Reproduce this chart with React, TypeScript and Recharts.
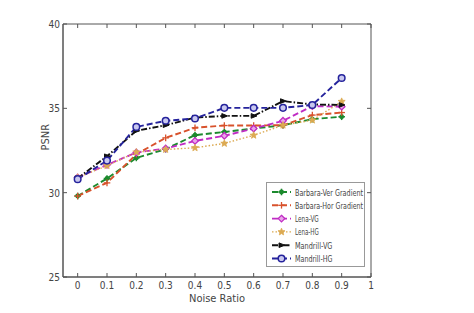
import React from "react";
import {
  LineChart,
  Line,
  XAxis,
  YAxis,
  ReferenceArea,
} from "recharts";

const noiseRatio = [0, 0.1, 0.2, 0.3, 0.4, 0.5, 0.6, 0.7, 0.8, 0.9];
const barbaraVer = [29.8, 30.84, 32.06, 32.58, 33.41, 33.6, 33.8, 34.0, 34.36, 34.5];
const barbaraHor = [29.8, 30.58, 32.28, 33.25, 33.85, 33.98, 33.98, 34.0, 34.6, 34.75];
const lenaVG = [30.9, 31.65, 32.38, 32.62, 33.07, 33.37, 33.8, 34.26, 35.13, 35.1];
const lenaHG = [30.9, 31.6, 32.4, 32.56, 32.66, 32.92, 33.4, 34.0, 34.3, 35.4];
const mandrillVG = [30.85, 32.16, 33.67, 34.0, 34.45, 34.55, 34.55, 35.43, 35.23, 35.2];
const mandrillHG = [30.8, 31.9, 33.9, 34.26, 34.4, 35.03, 35.03, 35.03, 35.2, 36.8];

const xTicks = [0, 0.1, 0.2, 0.3, 0.4, 0.5, 0.6, 0.7, 0.8, 0.9, 1];
const yTicks = [25, 30, 35, 40];

const data = noiseRatio.map((x, i) => ({
  x,
  bv: barbaraVer[i],
  bh: barbaraHor[i],
  lv: lenaVG[i],
  lh: lenaHG[i],
  mv: mandrillVG[i],
  mh: mandrillHG[i],
}));

// plot box in page pixels (matlab style frame)
const PLOT_LEFT = 63;
const PLOT_RIGHT = 371;
const PLOT_TOP = 24;
const PLOT_BOTTOM = 277;

const FONT = "'DejaVu Sans Condensed', 'Liberation Sans', Arial, sans-serif";
const TEXT = "#444";
const FRAME = "#555";

type Shape = "asterisk" | "plus" | "diamond" | "star" | "triangle" | "circle";

const series: Array<{
  key: string;
  name: string;
  color: string;
  dash: string;
  width: number;
  shape: Shape;
}> = [
  { key: "bv", name: "Barbara-Ver Gradient", color: "#1c8a2e", dash: "6 3", width: 1.9, shape: "asterisk" },
  { key: "bh", name: "Barbara-Hor Gradient", color: "#d8522c", dash: "6 3", width: 1.9, shape: "plus" },
  { key: "lv", name: "Lena-VG", color: "#c02cc4", dash: "6 3", width: 1.9, shape: "diamond" },
  { key: "lh", name: "Lena-HG", color: "#dcaa52", dash: "1.5 2", width: 1.4, shape: "star" },
  { key: "mv", name: "Mandrill-VG", color: "#111111", dash: "6 2 1.5 2", width: 1.9, shape: "triangle" },
  { key: "mh", name: "Mandrill-HG", color: "#25239c", dash: "6 3", width: 1.9, shape: "circle" },
];

function Marker({ shape, cx, cy, color }: { shape: Shape; cx: number; cy: number; color: string }) {
  const r = 3.3;
  switch (shape) {
    case "asterisk":
      return (
        <g stroke={color} strokeWidth={1.5}>
          <line x1={cx - r} x2={cx + r} y1={cy} y2={cy} />
          <line x1={cx} x2={cx} y1={cy - r} y2={cy + r} />
          <circle cx={cx} cy={cy} r={1.7} fill={color} />
        </g>
      );
    case "plus":
      return (
        <g stroke={color} strokeWidth={1.3}>
          <line x1={cx - r} x2={cx + r} y1={cy} y2={cy} />
          <line x1={cx} x2={cx} y1={cy - r} y2={cy + r} />
        </g>
      );
    case "diamond":
      return (
        <polygon
          points={`${cx},${cy - r} ${cx + r},${cy} ${cx},${cy + r} ${cx - r},${cy}`}
          fill="#e9a6ea"
          stroke={color}
          strokeWidth={1.3}
        />
      );
    case "star": {
      const pts: string[] = [];
      for (let i = 0; i < 10; i++) {
        const a = -Math.PI / 2 + (i * Math.PI) / 5;
        const rr = i % 2 === 0 ? r + 0.4 : r * 0.5;
        pts.push(`${cx + rr * Math.cos(a)},${cy + rr * Math.sin(a)}`);
      }
      return <polygon points={pts.join(" ")} fill={color} stroke={color} strokeWidth={0.8} />;
    }
    case "triangle":
      return (
        <polygon
          points={`${cx + r},${cy} ${cx - r + 0.8},${cy - r + 1} ${cx - r + 0.8},${cy + r - 1}`}
          fill={color}
          stroke={color}
        />
      );
    case "circle":
    default:
      return <circle cx={cx} cy={cy} r={r} fill="#c9c8ef" stroke={color} strokeWidth={1.5} />;
  }
}

const makeDot = (shape: Shape, color: string) => (props: any) => {
  const { cx, cy, index } = props;
  if (cx == null || cy == null) return <g key={index} />;
  return (
    <g key={index}>
      <Marker shape={shape} cx={cx} cy={cy} color={color} />
    </g>
  );
};

const BottomTick = (props: any) => {
  const { x, y, payload } = props;
  return (
    <g>
      <line x1={x} x2={x} y1={PLOT_BOTTOM} y2={PLOT_BOTTOM - 4} stroke={FRAME} />
      <line x1={x} x2={x} y1={PLOT_TOP} y2={PLOT_TOP + 4} stroke={FRAME} />
      <text x={x} y={y} dy={9} textAnchor="middle" fill={TEXT} fontSize={10} fontFamily={FONT}>
        {payload.value}
      </text>
    </g>
  );
};

const LeftTick = (props: any) => {
  const { x, y, payload } = props;
  return (
    <g>
      <line x1={PLOT_LEFT} x2={PLOT_LEFT + 4} y1={y} y2={y} stroke={FRAME} />
      <line x1={PLOT_RIGHT} x2={PLOT_RIGHT - 4} y1={y} y2={y} stroke={FRAME} />
      <text x={x} y={y} dy={4} textAnchor="end" fill={TEXT} fontSize={10} fontFamily={FONT}>
        {payload.value}
      </text>
    </g>
  );
};

// matlab-like legend box drawn in its own svg on top of the plot
const LEGEND_W = 99;
const LEGEND_H = 85;
const LegendBox = () => (
  <svg
    width={150}
    height={LEGEND_H}
    style={{ position: "absolute", left: 266, top: 182, overflow: "visible" }}
  >
    <rect x={0.5} y={0.5} width={LEGEND_W - 1} height={LEGEND_H - 1} fill="#fff" stroke="#999" />
    {series.map((s, i) => {
      const cy = 10 + i * 13.3;
      return (
        <g key={s.key}>
          <line x1={6} x2={25} y1={cy} y2={cy} stroke={s.color} strokeWidth={s.width} strokeDasharray={s.dash} />
          <Marker shape={s.shape} cx={15.5} cy={cy} color={s.color} />
          <text
            x={29}
            y={cy + 3.5}
            fontSize={9.5}
            fontFamily={FONT}
            fill={TEXT}
            textLength={s.name.length * 3.4}
            lengthAdjust="spacingAndGlyphs"
          >
            {s.name}
          </text>
        </g>
      );
    })}
  </svg>
);

export default function App() {
  return (
    <div style={{ position: "absolute", left: 0, top: 0, width: 474, height: 313, background: "#fff" }}>
      <LineChart
        width={474}
        height={313}
        data={data}
        margin={{ top: PLOT_TOP, right: 474 - PLOT_RIGHT, bottom: 0, left: 23 }}
      >
        <XAxis
          dataKey="x"
          type="number"
          domain={[-0.05, 1]}
          ticks={xTicks}
          allowDataOverflow
          height={313 - PLOT_BOTTOM}
          tickSize={0}
          tickMargin={3}
          tick={BottomTick}
          axisLine={{ stroke: FRAME }}
          label={{
            value: "Noise Ratio",
            position: "insideBottom",
            offset: 11,
            fill: TEXT,
            fontSize: 11,
            fontFamily: FONT,
          }}
        />
        <YAxis
          type="number"
          domain={[25, 40]}
          ticks={yTicks}
          width={PLOT_LEFT - 23}
          tickSize={0}
          tickMargin={3}
          tick={LeftTick}
          axisLine={{ stroke: FRAME }}
          label={{
            value: "PSNR",
            angle: -90,
            position: "insideLeft",
            offset: 22,
            fill: TEXT,
            fontSize: 11,
            fontFamily: FONT,
          }}
        />
        <ReferenceArea x1={-0.05} x2={1} y1={25} y2={40} fill="none" stroke={FRAME} strokeWidth={1} ifOverflow="visible" />
        {series.map((s) => (
          <Line
            key={s.key}
            dataKey={s.key}
            name={s.name}
            type="linear"
            stroke={s.color}
            strokeWidth={s.width}
            strokeDasharray={s.dash}
            dot={makeDot(s.shape, s.color)}
            activeDot={false}
            isAnimationActive={false}
          />
        ))}
      </LineChart>
      <LegendBox />
    </div>
  );
}
